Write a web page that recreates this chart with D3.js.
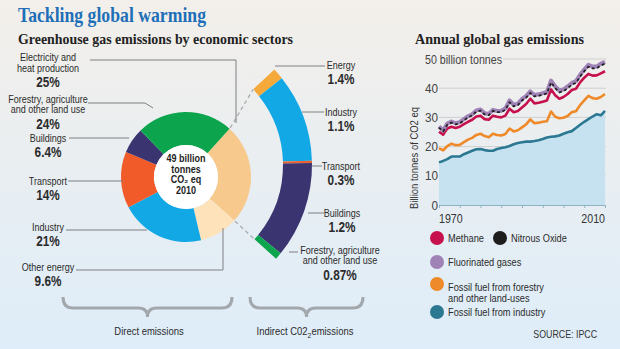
<!DOCTYPE html>
<html>
<head>
<meta charset="utf-8">
<script src="https://cdn.jsdelivr.net/npm/d3@7"></script>
<style>
  body { margin: 0; }
  svg { display: block; font-family: "Liberation Sans", Arial, sans-serif; }
</style>
</head>
<body>
<svg id="chart" width="620" height="349"></svg>
<script>
// ---- direct emissions (donut), clockwise from upper right
const directSectors = ["Electricity and heat production", "Other energy", "Industry", "Transport", "Buildings", "Forestry, agriculture and other land use"];
const directShares = [25, 9.6, 21, 14, 6.4, 24];
const directColors = ["#f8c98c", "#fde2ba", "#12a8e6", "#f15a29", "#3a3470", "#0ca44c"];

// ---- indirect CO2 from electricity (outer arc), top to bottom
const indirectSectors = ["Energy", "Industry", "Transport", "Buildings", "Forestry, agriculture and other land use"];
// drawn sizes (the printed 1.1% / 1.2% are drawn as 11 / 12 in the original)
const indirectShares = [1.4, 11, 0.3, 12, 0.87];
const indirectLabels = ["1.4%", "1.1%", "0.3%", "1.2%", "0.87%"];
const indirectColors = ["#f5a93b", "#12a8e6", "#ea6230", "#3a3470", "#0ca44c"];

// ---- annual global emissions, stacked totals (billion tonnes CO2 eq)
const years = d3.range(1970, 2011);
const fossilIndustry = [14.6,15.1,15.7,16.6,16.6,16.6,17.4,18.0,18.6,19.1,19.2,18.8,18.6,18.6,19.2,19.5,19.8,20.2,20.8,21.2,21.5,21.7,21.7,21.9,22.2,22.6,23.1,23.4,23.5,23.8,24.4,24.9,25.3,26.4,27.5,28.5,29.4,30.3,31.1,30.7,32.2];
const fossilForestry = [19.5,18.7,20.2,21.0,20.5,20.6,21.5,22.4,23.0,24.0,24.4,23.6,23.2,24.4,24.0,23.8,24.3,26.2,25.2,25.6,26.6,27.6,29.3,28.0,28.2,28.5,28.7,32.0,30.2,29.7,29.9,30.5,31.8,32.1,34.2,35.8,37.4,36.6,36.4,37.0,38.0];
const methane = [25.1,24.1,26.2,26.8,26.4,26.8,27.7,28.5,29.2,30.3,30.6,29.4,29.2,30.6,30.2,30.0,30.6,33.0,31.8,32.2,33.4,34.6,36.4,34.8,35.0,35.4,35.8,39.6,37.6,36.4,37.0,38.0,39.4,39.8,42.0,43.6,44.9,44.3,44.4,45.1,45.8];
const nitrousOxide = [26.5,25.2,27.5,28.2,27.6,28.0,29.0,30.0,30.7,32.0,32.3,31.0,30.8,32.2,31.8,31.8,32.6,35.2,33.8,34.2,35.8,36.8,38.4,37.2,37.4,37.8,38.2,42.0,40.0,38.6,39.0,40.0,41.2,41.8,44.0,45.8,47.4,46.8,46.8,47.8,48.4];
const fluorinated = [26.9,25.5,27.9,28.6,28.0,28.4,29.4,30.4,31.1,32.4,32.7,31.4,31.2,32.6,32.2,32.3,33.1,35.8,34.3,34.7,36.3,37.3,38.9,37.7,37.9,38.3,38.7,42.6,40.6,39.2,39.6,40.6,41.8,42.4,44.6,46.4,48.0,47.4,47.4,48.4,49.0];
const yTicks = [0, 10, 20, 30, 40, 50];
const xTicks = [1970, 1975, 1980, 1985, 1990, 1995, 2000, 2005, 2010];

const svg = d3.select("#chart");
const rad = d => d * Math.PI / 180;

// narrow text: the original uses a condensed face, so squeeze horizontally
function ntext(parent, x, y, s, size, opts = {}) {
  const g = parent.append("g").attr("transform", `translate(${x},${y}) scale(${opts.sx || 0.86},1)`);
  return g.append("text").attr("text-anchor", opts.anchor || "start")
    .style("font-size", size + "px").style("font-weight", opts.bold ? "bold" : null)
    .attr("fill", opts.fill || "#2b2b2b").text(s);
}

// background
const grad = svg.append("defs").append("linearGradient")
  .attr("id", "bg").attr("x1", 0).attr("y1", 0).attr("x2", 0).attr("y2", 1);
grad.append("stop").attr("offset", "0%").attr("stop-color", "#f3efea");
grad.append("stop").attr("offset", "100%").attr("stop-color", "#deedf9");
svg.append("rect").attr("width", 620).attr("height", 349).attr("fill", "url(#bg)");

// titles
svg.append("text").attr("x", 18).attr("y", 22)
  .attr("textLength", 188).attr("lengthAdjust", "spacingAndGlyphs")
  .style("font-family", "'Liberation Serif', 'DejaVu Serif', serif")
  .style("font-weight", "bold").style("font-size", "21px").attr("fill", "#1e6fb8")
  .text("Tackling global warming");
svg.append("text").attr("x", 18).attr("y", 44)
  .attr("textLength", 275).attr("lengthAdjust", "spacingAndGlyphs")
  .style("font-family", "'Liberation Serif', 'DejaVu Serif', serif")
  .style("font-weight", "bold").style("font-size", "14px").attr("fill", "#222")
  .text("Greenhouse gas emissions by economic sectors");
svg.append("text").attr("x", 415).attr("y", 44)
  .attr("textLength", 169).attr("lengthAdjust", "spacingAndGlyphs")
  .style("font-family", "'Liberation Serif', 'DejaVu Serif', serif")
  .style("font-weight", "bold").style("font-size", "14px").attr("fill", "#222")
  .text("Annual global gas emissions");

// ---------- donut
const cx = 186, cy = 177;
const pie = d3.pie().sort(null).startAngle(rad(42)).endAngle(rad(402));
const slices = pie(directShares);
const arc = d3.arc().innerRadius(32).outerRadius(65);
const donut = svg.append("g").attr("transform", `translate(${cx},${cy})`);
donut.selectAll("path").data(slices).enter().append("path")
  .attr("d", arc).attr("fill", (d, i) => directColors[i]);
donut.append("circle").attr("r", 32).attr("fill", "#fff");
["49 billion", "tonnes", "CO₂ eq", "2010"].forEach((t, i) =>
  ntext(donut, 0, -15 + i * 10.5, t, 10, { bold: true, anchor: "middle", sx: 0.9, fill: "#1e1e1e" }));

// ---------- outer arc (indirect)
const ox = 172, oy = 165;
const outerPie = d3.pie().sort(null).startAngle(rad(47)).endAngle(rad(132));
const outerSlices = outerPie(indirectShares);
const outerArc = d3.arc().innerRadius(111).outerRadius(140);
const outer = svg.append("g").attr("transform", `translate(${ox},${oy})`);
outer.selectAll("path").data(outerSlices).enter().append("path")
  .attr("d", outerArc).attr("fill", (d, i) => indirectColors[i]);

// dashed links from electricity slice to the arc
const elec = slices[0];
[[elec.startAngle, outerSlices[0].startAngle], [elec.endAngle, outerSlices[4].endAngle]].forEach(([a, b]) => {
  svg.append("line")
    .attr("x1", cx + 66 * Math.sin(a)).attr("y1", cy - 66 * Math.cos(a))
    .attr("x2", ox + 111 * Math.sin(b)).attr("y2", oy - 111 * Math.cos(b))
    .attr("stroke", "#a9adb1").attr("stroke-width", 1.3).attr("stroke-dasharray", "4,3");
});

// ---------- labels
const leftLayout = [
  { lines: ["Electricity and", "heat production"], pct: "25%", y: 61, path: [[90, 60], [236, 60], [236, 123]] },
  { lines: ["Forestry, agriculture", "and other land use"], pct: "24%", y: 102.5, path: [[88, 103], [145, 103], [153, 108]] },
  { lines: ["Buildings"], pct: "6.4%", y: 141.5, path: [[69, 138], [129, 138]] },
  { lines: ["Transport"], pct: "14%", y: 184.5, path: [[68, 181], [123, 181]] },
  { lines: ["Industry"], pct: "21%", y: 230.5, path: [[66, 230], [147, 230]] },
  { lines: ["Other energy"], pct: "9.6%", y: 270.5, path: [[76, 270], [223, 270], [223, 228]] }
];
const rightLayout = [
  { lines: ["Energy"], y: 68.5, x: 341, path: [[275, 66], [325, 66]] },
  { lines: ["Industry"], y: 115.5, x: 341, path: [[302, 112], [324, 112]] },
  { lines: ["Transport"], y: 169.5, x: 341, path: [[312, 166], [322, 166]] },
  { lines: ["Buildings"], y: 216.5, x: 342, path: [[308, 213], [324, 213]] },
  { lines: ["Forestry, agriculture", "and other land use"], y: 253.5, x: 340, path: [[289, 252], [298, 252]] }
];
const leader = d3.line();
function drawLabel(x, l, pct) {
  svg.append("path").attr("d", leader(l.path)).attr("fill", "none")
    .attr("stroke", "#7d7f82").attr("stroke-width", 1);
  l.lines.forEach((s, i) => ntext(svg, x, l.y + i * 10.5, s, 10.5, { anchor: "middle", sx: 0.86 }));
  ntext(svg, x, l.y + (l.lines.length - 1) * 10.5 + 15.5, pct, 15.5, { anchor: "middle", bold: true, sx: 0.76 });
}
leftLayout.forEach(l => drawLabel(48, l, l.pct));
rightLayout.forEach((l, i) => drawLabel(l.x, l, indirectLabels[i]));

// brackets
function brace(x0, x1, top) {
  const m = (x0 + x1) / 2, b = top + 11;
  return `M${x0},${top} Q${x0},${b} ${x0 + 10},${b} L${m - 9},${b} Q${m},${b} ${m},${b + 9}` +
         ` Q${m},${b} ${m + 9},${b} L${x1 - 10},${b} Q${x1},${b} ${x1},${top}`;
}
[[63, 232], [250, 363]].forEach(([a, b]) =>
  svg.append("path").attr("d", brace(a, b, 297)).attr("fill", "none")
    .attr("stroke", "#a3a8ad").attr("stroke-width", 3));
ntext(svg, 149, 335, "Direct emissions", 11, { anchor: "middle" });
const ind = ntext(svg, 305, 335, "", 11, { anchor: "middle" });
ind.append("tspan").text("Indirect C02");
ind.append("tspan").attr("dy", 3).style("font-size", "8px").text("2");
ind.append("tspan").attr("dy", -3).text("emissions");

// ---------- line chart
const x = d3.scaleLinear().domain([1970, 2010]).range([439, 605]);
const y = d3.scaleLinear().domain([0, 50]).range([205, 59]);

const plot = svg.append("g");
plot.selectAll(".grid").data(yTicks.filter(v => v > 0)).enter().append("line")
  .attr("x1", v => v === 50 ? 503 : 439).attr("x2", 606)
  .attr("y1", v => y(v)).attr("y2", v => y(v))
  .attr("stroke", "#cfd0d0").attr("stroke-width", 1);

plot.append("path").datum(fossilIndustry)
  .attr("d", d3.area().x((d, i) => x(years[i])).y0(y(0)).y1(d => y(d)))
  .attr("fill", "#c6e2f1");

const line = d3.line().x((d, i) => x(years[i])).y(d => y(d));
const series = [
  { v: fossilIndustry, c: "#2b7892", w: 2.6 },
  { v: fossilForestry, c: "#ef8a2b", w: 2.6 },
  { v: methane, c: "#c7114f", w: 2.6 },
  { v: fluorinated, c: "#9f82b6", w: 4 },
  { v: nitrousOxide, c: "#222", w: 1.8, dash: "3,2.5" }
];
series.forEach(s => plot.append("path").datum(s.v).attr("d", line)
  .attr("fill", "none").attr("stroke", s.c).attr("stroke-width", s.w)
  .attr("stroke-linejoin", "round").attr("stroke-dasharray", s.dash || null));

// axes
const xAxis = plot.append("g").attr("transform", `translate(0,${y(0)})`)
  .call(d3.axisBottom(x).tickValues(xTicks).tickSize(3).tickSizeOuter(0).tickFormat(""));
xAxis.select(".domain").attr("stroke", "#8fb3c4");
xAxis.selectAll(".tick line").attr("stroke", "#8fb3c4");
[[1970, "start"], [2010, "end"]].forEach(([yr, anchor]) =>
  ntext(plot, x(yr), 223, yr, 13, { anchor, sx: 0.82, fill: "#333" }));

yTicks.forEach(v => {
  if (v === 50) {
    plot.append("text").attr("x", 425).attr("y", y(v) + 4.5).style("font-size", "13px").attr("fill", "#444")
      .attr("textLength", 77).attr("lengthAdjust", "spacingAndGlyphs").text("50 billion tonnes");
  } else {
    ntext(plot, 438, y(v) + 4.5, v, 13, { anchor: "end", sx: 0.9, fill: "#444" });
  }
});
svg.append("g").attr("transform", "translate(418,158) rotate(-90) scale(0.86,1)")
  .append("text").attr("text-anchor", "middle").style("font-size", "11px").attr("fill", "#333")
  .text("Billion tonnes of CO2 eq");

// legend
const legend = [
  { name: ["Methane"], c: "#c7114f", x: 437, y: 238 },
  { name: ["Nitrous Oxide"], c: "#1d1d1d", x: 500, y: 238 },
  { name: ["Fluorinated gases"], c: "#9f82b6", x: 437, y: 262 },
  { name: ["Fossil fuel from forestry", "and other land-uses"], c: "#ef8a2b", x: 437, y: 284 },
  { name: ["Fossil fuel from industry"], c: "#2b7892", x: 437, y: 312 }
];
legend.forEach(l => {
  svg.append("circle").attr("cx", l.x).attr("cy", l.y).attr("r", 7).attr("fill", l.c);
  l.name.forEach((s, i) => ntext(svg, l.x + 11, l.y + 4 + (l.name.length > 1 ? 3 : 0) + i * 10.5, s, 11, { sx: 0.84 }));
});
ntext(svg, 597, 338, "SOURCE: IPCC", 10.5, { anchor: "end", sx: 0.84, fill: "#333" });
</script>
</body>
</html>
